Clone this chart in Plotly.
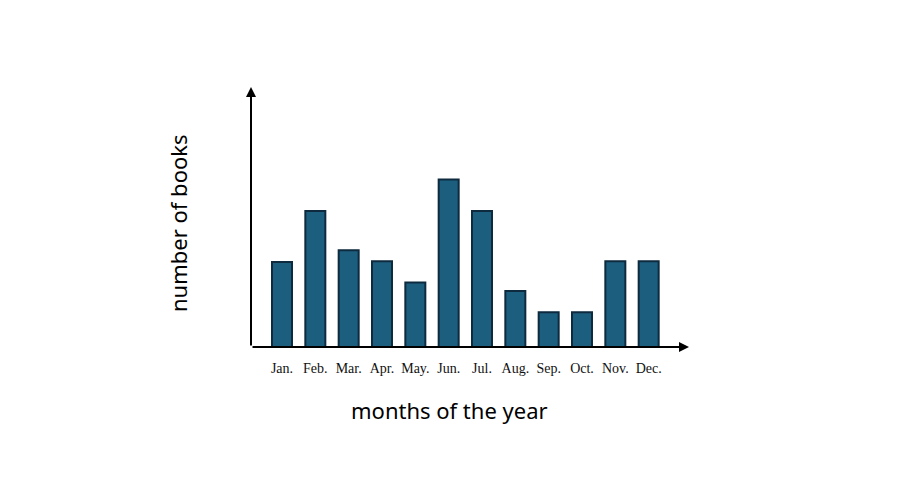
import plotly.graph_objects as go

# monthly counts (arbitrary units, axis has no ticks)
months = ['Jan.', 'Feb.', 'Mar.', 'Apr.', 'May.', 'Jun.',
          'Jul.', 'Aug.', 'Sep.', 'Oct.', 'Nov.', 'Dec.']
books = [5.0, 8.0, 5.7, 5.05, 3.8, 9.85, 8.0, 3.3, 2.05, 2.05, 5.05, 5.05]

# page body has an 8px margin, so the plot area is set 8px up/left
L, T = 243, 79
R, B = 917 - 681, 502 - 339

fig = go.Figure()

fig.add_trace(go.Bar(
    x=months,
    y=books,
    width=0.6,
    marker=dict(color='#1c5e7e', line=dict(color='#0e2a3e', width=2)),
    hoverinfo='x+y'
))

fig.update_layout(
    width=917,
    height=502,
    margin=dict(l=L, r=R, t=T, b=B),
    plot_bgcolor='white',
    paper_bgcolor='white',
    showlegend=False,
    xaxis=dict(
        type='category',
        range=[-0.93, 12.21],
        showgrid=False,
        zeroline=False,
        showline=False,
        ticks='',
        ticklabelstandoff=11,
        tickfont=dict(family='Liberation Serif', size=14, color='#111111'),
    ),
    yaxis=dict(
        range=[0, 15.3],
        showgrid=False,
        zeroline=False,
        showline=False,
        showticklabels=False,
        ticks='',
    ),
)

# axes drawn as arrows
for tip in [(1, 0), (0, 1)]:
    fig.add_annotation(x=tip[0], y=tip[1], ax=0, ay=0,
                       xref='x domain', yref='y domain',
                       axref='x domain', ayref='y domain',
                       showarrow=True, arrowhead=2, arrowsize=1,
                       arrowwidth=2, arrowcolor='black', text='')

# axis titles (placed by hand, off-centre like the original)
pw = 917 - L - R
ph = 502 - T - B
fig.add_annotation(x=(449 - 251) / pw, y=-(410 - 347) / ph,
                   xref='paper', yref='paper', text='months of the year',
                   xanchor='center', yanchor='middle',
                   showarrow=False, font=dict(family='Noto Sans', size=22, color='black'))
fig.add_annotation(x=-(251 - 178) / pw, y=(347 - 223) / ph,
                   xref='paper', yref='paper', text='number of books', textangle=-90,
                   xanchor='center', yanchor='middle',
                   showarrow=False, font=dict(family='Noto Sans', size=22, color='black'))

fig.write_html("out.html")
